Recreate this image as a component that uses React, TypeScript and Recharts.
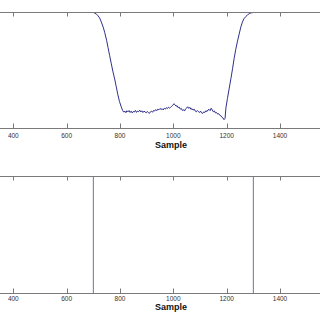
import { LineChart, Line, XAxis, YAxis } from "recharts";

const sampleTicks = [400, 600, 800, 1000, 1200, 1400];

// upper panel: smoothed signal
const signalSamples = [
  350, 700, 705, 712, 718, 724, 730, 737, 743, 750, 755, 761, 767, 773, 780, 786, 792, 798, 805, 810,
  814, 818, 822, 826, 830, 834, 838, 842, 846, 850, 854, 858, 862, 866, 870, 874, 878, 882, 886, 890,
  894, 898, 902, 906, 910, 914, 918, 922, 926, 930, 934, 938, 942, 946, 950, 954, 958, 962, 966, 970,
  974, 978, 982, 986, 990, 994, 998, 1002, 1006, 1010, 1014, 1018, 1022, 1026, 1030, 1034, 1038, 1042,
  1046, 1050, 1054, 1058, 1062, 1066, 1070, 1074, 1078, 1082, 1086, 1090, 1094, 1098, 1102, 1106, 1110,
  1114, 1118, 1122, 1126, 1130, 1134, 1138, 1142, 1146, 1150, 1154, 1158, 1162, 1166, 1170, 1174, 1178,
  1182, 1186, 1190, 1194, 1197, 1203, 1209, 1216, 1222, 1228, 1234, 1240, 1247, 1253, 1259, 1265, 1272,
  1278, 1285, 1292, 1300, 1550,
];
const signalValues = [
  1, 1, 0.995, 0.985, 0.97, 0.95, 0.915, 0.87, 0.82, 0.75, 0.69, 0.62, 0.55, 0.48, 0.41, 0.34, 0.27, 0.21, 0.16, 0.13,
  0.115, 0.125, 0.11, 0.128, 0.118, 0.13, 0.112, 0.124, 0.108, 0.122, 0.116, 0.131, 0.113, 0.125, 0.119, 0.133, 0.117, 0.127, 0.112, 0.124,
  0.118, 0.109, 0.121, 0.113, 0.104, 0.118, 0.124, 0.114, 0.13, 0.125, 0.138, 0.128, 0.142, 0.136, 0.148, 0.139, 0.145, 0.135, 0.15, 0.142,
  0.155, 0.147, 0.16, 0.151, 0.158, 0.168, 0.176, 0.19, 0.182, 0.168, 0.172, 0.155, 0.16, 0.142, 0.148, 0.13, 0.137, 0.125,
  0.145, 0.152, 0.163, 0.148, 0.158, 0.14, 0.147, 0.133, 0.142, 0.126, 0.118, 0.13, 0.12, 0.112, 0.125, 0.108, 0.104,
  0.118, 0.112, 0.128, 0.12, 0.135, 0.14, 0.128, 0.15, 0.135, 0.118, 0.126, 0.108, 0.112, 0.098, 0.102, 0.088, 0.085,
  0.07, 0.064, 0.048, 0.06, 0.15, 0.237, 0.32, 0.414, 0.5, 0.592, 0.67, 0.739, 0.81, 0.87, 0.915, 0.945, 0.965,
  0.978, 0.99, 0.997, 1, 1,
];

// lower panel: detection pulse
const pulseSamples = [350, 700, 1300, 1550];
const pulseValues = [0, 1, 0, 0];

const signalData = signalSamples.map((s, i) => ({ s, v: signalValues[i] }));
const pulseData = pulseSamples.map((s, i) => ({ s, v: pulseValues[i] }));

const axisGray = "#7a7a7a";
const font = "'Liberation Sans', Arial, sans-serif";

function BottomTick(props: any) {
  const { x, y, payload, gap } = props;
  const lx = Math.round(x) + 0.5;
  return (
    <g>
      <line x1={lx} y1={y} x2={lx} y2={y - 5} stroke={axisGray} strokeWidth={1} />
      <text x={x} y={y + gap} textAnchor="middle" dominantBaseline="central" fontSize={6.5} fill="#333" fontFamily={font}>
        {payload.value}
      </text>
    </g>
  );
}

function TopTick(props: any) {
  const { x, y } = props;
  const lx = Math.round(x) + 0.5;
  return <line x1={lx} y1={y} x2={lx} y2={y + 4} stroke={axisGray} strokeWidth={1} />;
}

function Panel(props: any) {
  const { data, top, height, plotTop, plotBottom, yDomain, stroke, type, tickGap, labelGap } = props;
  const axisH = 22;
  const topH = 2;
  return (
    <div style={{ position: "absolute", left: 0, top }}>
      <LineChart
        width={320}
        height={height}
        data={data}
        margin={{ top: plotTop - topH, right: 0, left: 0, bottom: height - plotBottom - axisH }}
      >
        <XAxis
          xAxisId="top"
          orientation="top"
          dataKey="s"
          type="number"
          domain={[350, 1550]}
          ticks={sampleTicks}
          interval={0}
          height={topH}
          tickSize={0}
          tickMargin={0}
          tickLine={false}
          stroke={axisGray}
          tick={<TopTick />}
        />
        <XAxis
          dataKey="s"
          type="number"
          domain={[350, 1550]}
          ticks={sampleTicks}
          interval={0}
          height={axisH}
          tickSize={0}
          tickMargin={0}
          tickLine={false}
          stroke={axisGray}
          tick={<BottomTick gap={tickGap} />}
          label={(p: any) => (
            <text
              x={p.viewBox.x + p.viewBox.width / 2 + 11}
              y={p.viewBox.y + labelGap}
              textAnchor="middle"
              dominantBaseline="central"
              fontSize={9}
              fontWeight="bold"
              fill="#111"
              fontFamily={font}
            >
              Sample
            </text>
          )}
        />
        <YAxis hide domain={yDomain} />
        <Line
          type={type}
          dataKey="v"
          stroke={stroke}
          strokeWidth={1}
          dot={false}
          isAnimationActive={false}
        />
      </LineChart>
    </div>
  );
}

export default function App() {
  return (
    <div style={{ position: "absolute", left: 0, top: 0, width: 320, height: 320, background: "#fff" }}>
      <Panel
        data={signalData}
        top={0}
        height={152}
        plotTop={12.5}
        plotBottom={128.5}
        yDomain={[-0.03, 1]}
        stroke="#30308a"
        type="linear"
        tickGap={6.5}
        labelGap={16.5}
      />
      <Panel
        data={pulseData}
        top={160}
        height={160}
        plotTop={16.5}
        plotBottom={133.5}
        yDomain={[0, 1]}
        stroke="#6f6fa8"
        type="stepAfter"
        tickGap={5}
        labelGap={13.5}
      />
    </div>
  );
}
